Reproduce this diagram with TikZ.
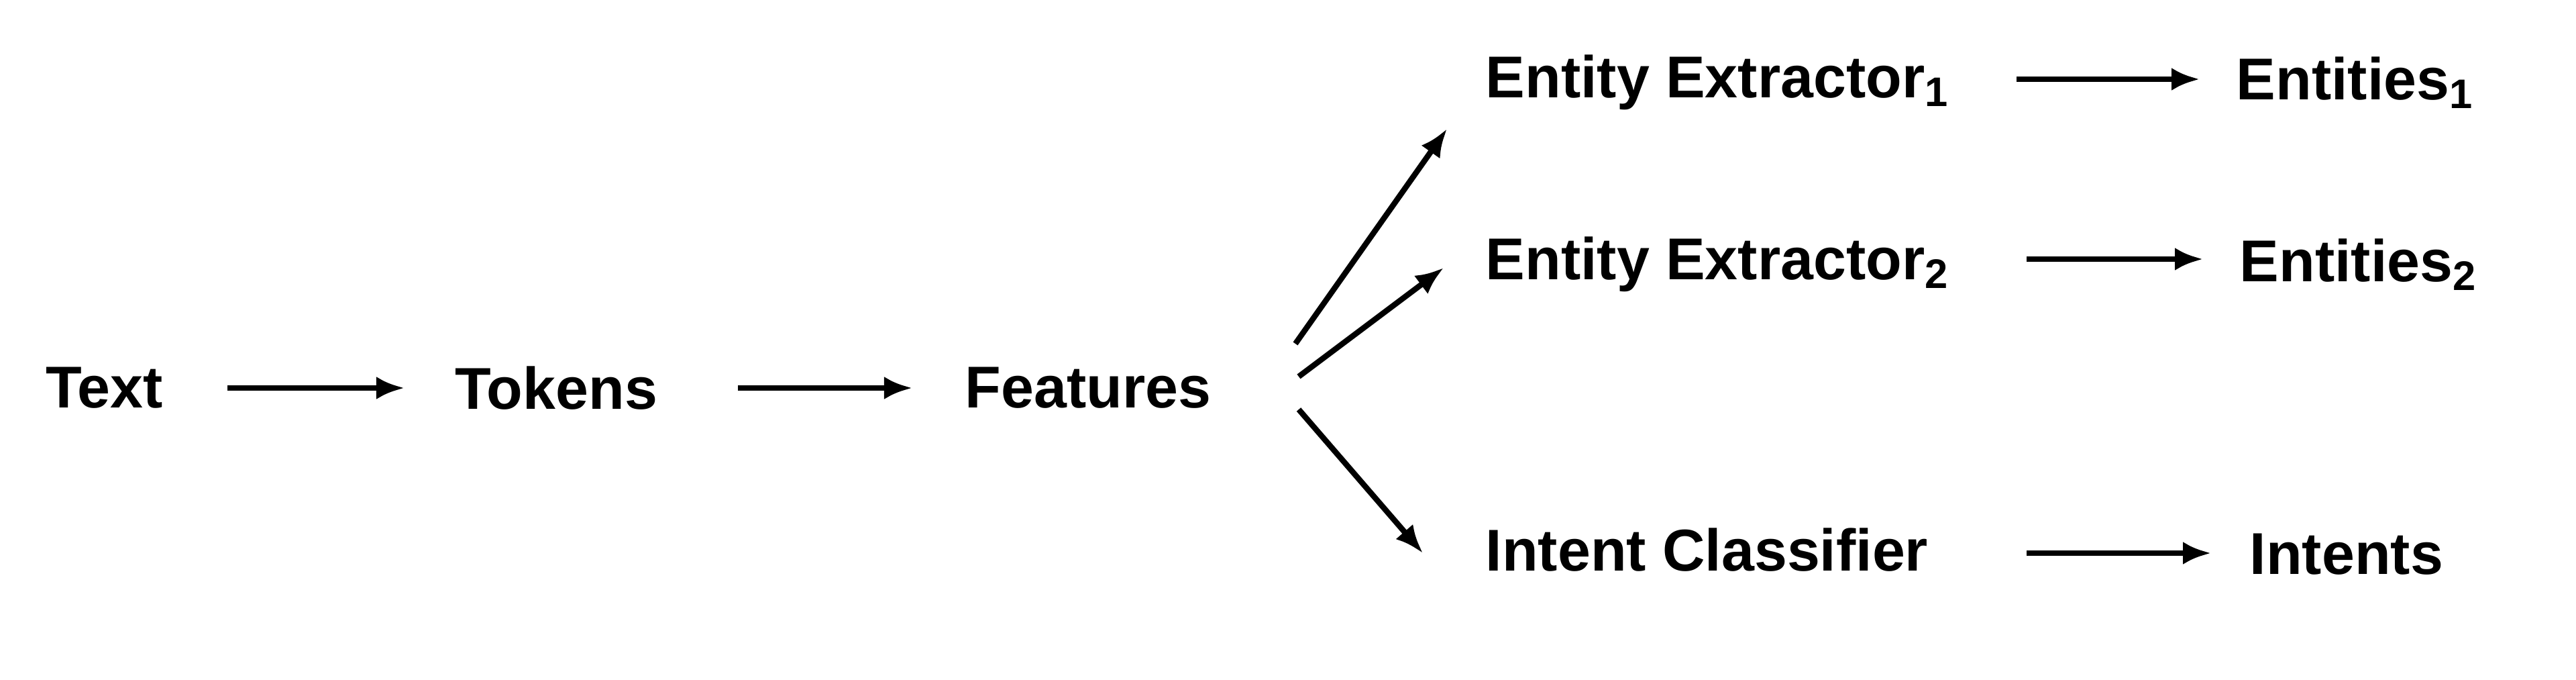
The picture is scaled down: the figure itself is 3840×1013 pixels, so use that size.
\documentclass[tikz,border=0pt]{standalone}
\usepackage{fontspec}
\setmainfont{Liberation Sans}
\usetikzlibrary{arrows.meta}
\begin{document}
\begin{tikzpicture}[x=0.01cm,y=-0.01cm,
  lbl/.style={font=\fontsize{25}{30}\selectfont\bfseries, inner sep=0pt, anchor=west},
  arr/.style={-{Latex[length=0.42cm,width=0.34cm]}, line width=2.4pt}]
\useasboundingbox (0,0) rectangle (3840,1013);
\node[lbl] (text) at (68,578) {Text};
\node[lbl] (tokens) at (678,578) {Tokens};
\node[lbl] (features) at (1438,578) {Features};
\node[lbl] (ee1) at (2214,123) {Entity Extractor$_{\mathbf 1}$};
\node[lbl] (ee2) at (2214,394) {Entity Extractor$_{\mathbf 2}$};
\node[lbl] (ic) at (2214,819) {Intent Classifier};
\node[lbl] (en1) at (3333,123) {Entities$_{\mathbf 1}$};
\node[lbl] (en2) at (3338,394) {Entities$_{\mathbf 2}$};
\node[lbl] (int) at (3353,826) {Intents};
\coordinate (a1) at (339,578); \coordinate (b1) at (603,578);
\coordinate (a2) at (1100,578); \coordinate (b2) at (1360,578);
\coordinate (f1) at (1931,512); \coordinate (g1) at (2157,192);
\coordinate (f2) at (1936,561); \coordinate (g2) at (2152,399);
\coordinate (f3) at (1936,610); \coordinate (g3) at (2121,824);
\coordinate (e1) at (3006,118); \coordinate (h1) at (3279,118);
\coordinate (e2) at (3021,386); \coordinate (h2) at (3284,386);
\coordinate (e3) at (3021,824); \coordinate (h3) at (3296,824);
\draw[arr] (a1) -- (b1);
\draw[arr] (a2) -- (b2);
\draw[arr] (f1) -- (g1);
\draw[arr] (f2) -- (g2);
\draw[arr] (f3) -- (g3);
\draw[arr] (e1) -- (h1);
\draw[arr] (e2) -- (h2);
\draw[arr] (e3) -- (h3);
\end{tikzpicture}
\end{document}
